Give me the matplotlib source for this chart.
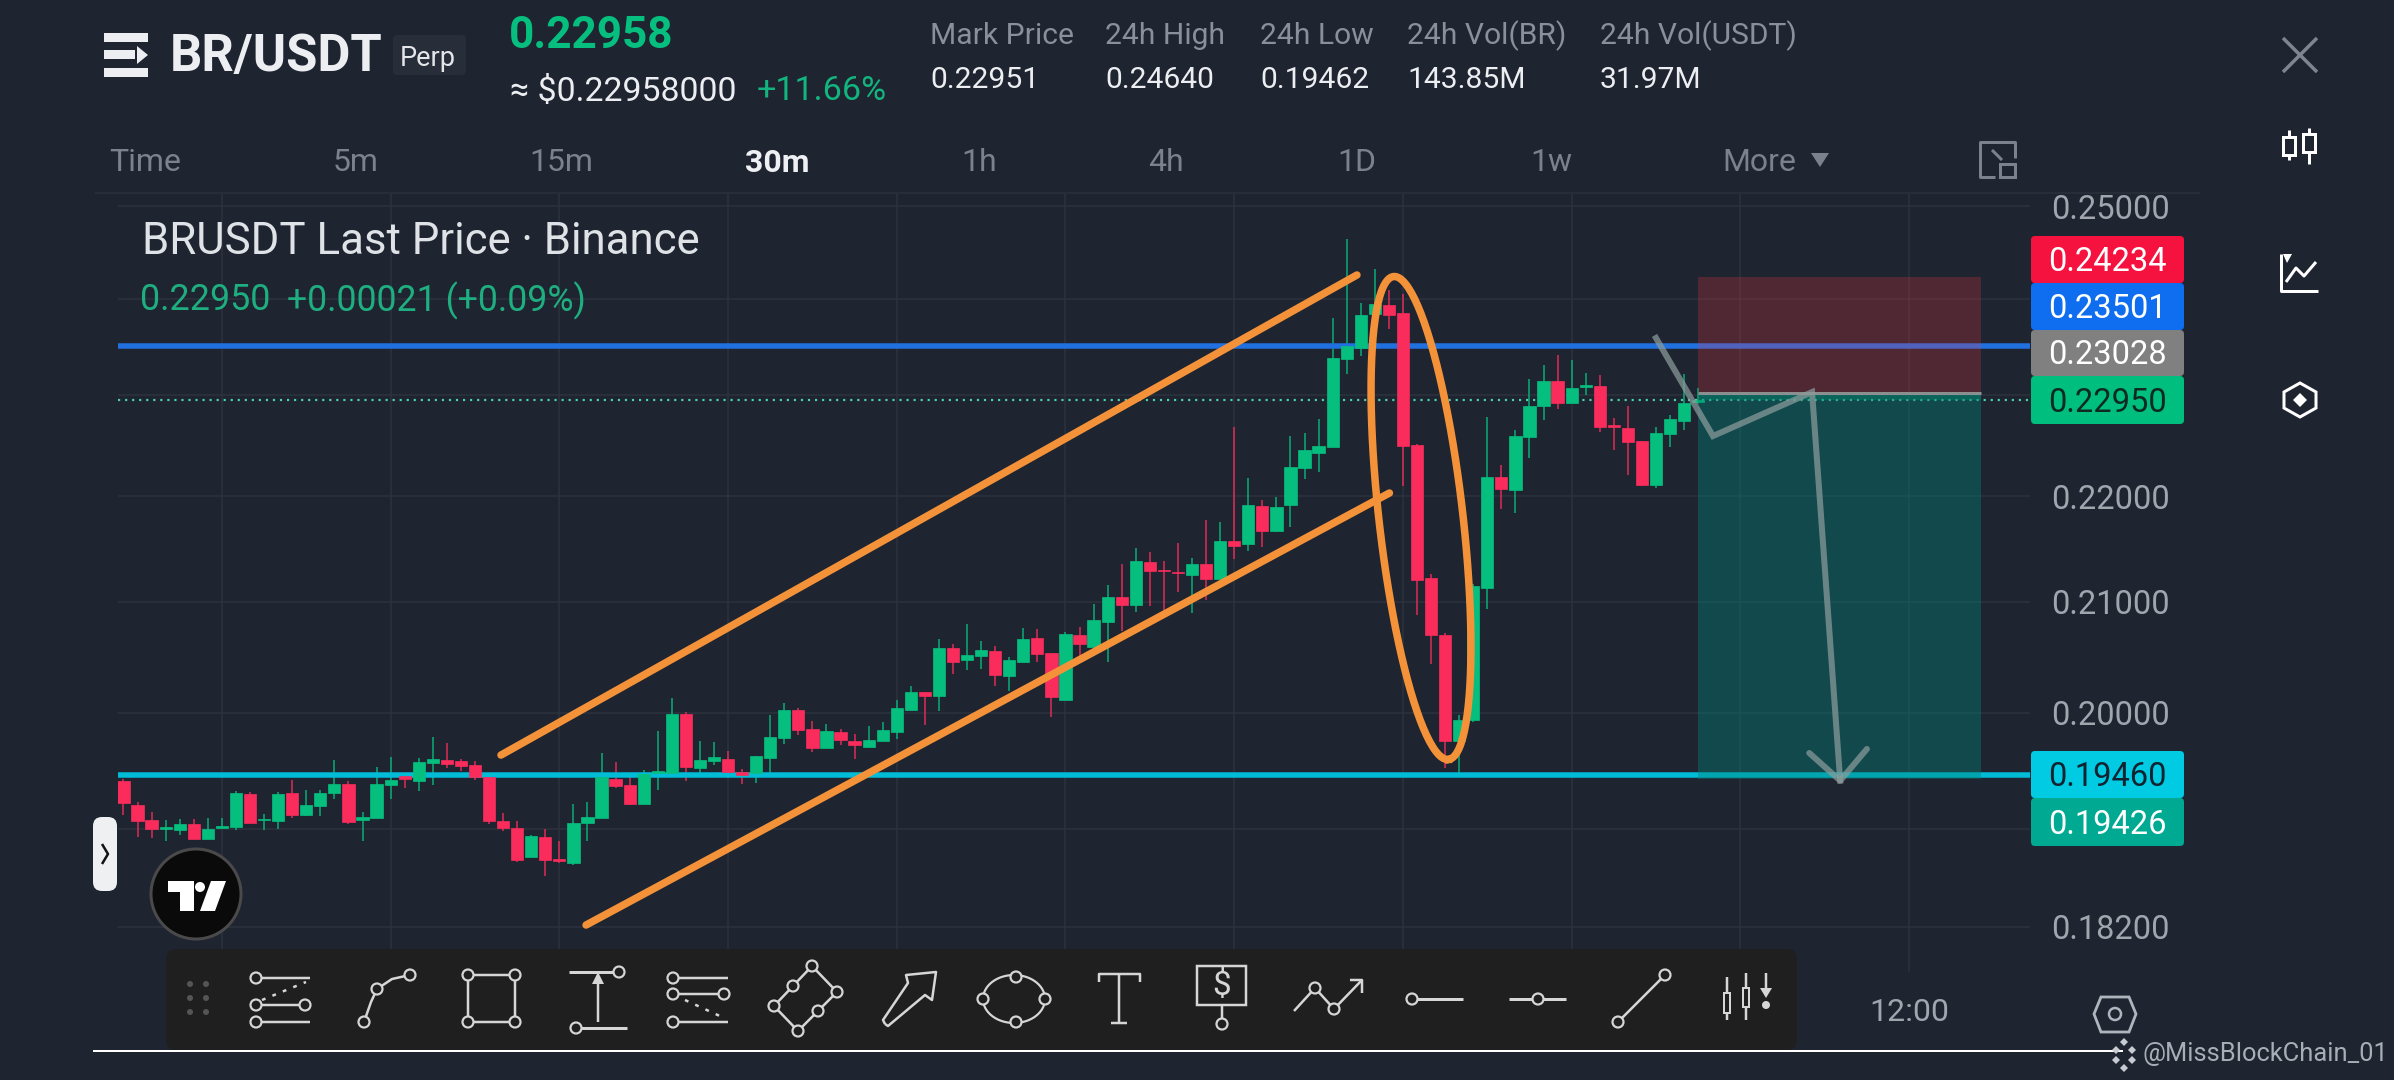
import numpy as np
import matplotlib
matplotlib.use('Agg')
import matplotlib.pyplot as plt
from matplotlib.patches import Circle, Polygon, FancyBboxPatch, Rectangle

plt.rcParams['font.family'] = ['Roboto', 'DejaVu Sans']

W, H = 2394, 1080

# candles (30m BR/USDT)
opens = [.19410, .19205, .19077, .19000, .18990, .19042, .18919, .19006, .19017, .19299,
         .19074, .19068, .19307, .19119, .19196, .19307, .19382, .19077, .19096, .19376,
         .19450, .19404, .19564, .19590, .19575, .19547, .19438, .19068, .19008, .18766,
         .18935, .18752, .18718, .19051, .19096, .19425, .19376, .19211, .19476, .19476,
         .19991, .19521, .19578, .19596, .19487, .19472, .19607, .19778, .20019, .19855,
         .19692, .19829, .19752, .19701, .19752, .19829, .20019, .20184, .20147, .20578,
         .20468, .20505, .20548, .20321, .20450, .20670, .20532, .20110, .20697, .20587,
         .20817, .21043, .20972, .21375, .21299, .21280, .21245, .21349, .21208, .21566,
         .21538, .21906, .21670, .21915, .22277, .22426, .22485, .23375, .23486, .23844,
         .23934, .23854, .22505, .21223, .20697, .19752, .19934, .21132, .22188, .22059,
         .22584, .22891, .23146, .22921, .23086, .23094, .22700, .22673, .22544, .22109,
         .22614, .22742, .22931]
closes = [.19216, .19068, .18998, .19014, .19042, .18919, .19000, .19025, .19302, .19051,
          .19088, .19299, .19119, .19205, .19307, .19382, .19060, .19102, .19382, .19416,
          .19427, .19573, .19598, .19553, .19538, .19438, .19068, .19011, .18742, .18943,
          .18742, .18733, .19051, .19102, .19438, .19367, .19211, .19467, .19496, .19983,
          .19530, .19590, .19615, .19487, .19461, .19624, .19786, .20019, .19846, .19692,
          .19838, .19761, .19712, .19761, .19846, .20037, .20184, .20147, .20578, .20450,
          .20514, .20560, .20331, .20468, .20661, .20523, .20138, .20707, .20615, .20835,
          .21048, .20972, .21384, .21283, .21286, .21267, .21349, .21208, .21566, .21519,
          .21915, .21670, .21896, .22287, .22449, .22495, .23385, .23500, .23833, .23948,
          .23833, .22488, .21201, .20691, .19752, .19934, .21144, .22190, .22069, .22594,
          .22891, .23146, .22924, .23073, .23101, .22683, .22683, .22534, .22109, .22624,
          .22762, .22921, .22950]
highs = [.19425, .19225, .19145, .19077, .19083, .19088, .19092, .19096, .19325, .19316,
         .19128, .19316, .19416, .19333, .19330, .19590, .19407, .19142, .19530, .19615,
         .19478, .19604, .19786, .19732, .19596, .19578, .19450, .19134, .19068, .18952,
         .18998, .18903, .19211, .19231, .19647, .19573, .19438, .19504, .19838, .20129,
         .20009, .19752, .19746, .19661, .19510, .19624, .19977, .20083, .20037, .19923,
         .19897, .19855, .19812, .19880, .19915, .20113, .20239, .20184, .20661, .20615,
         .20796, .20642, .20597, .20498, .20759, .20752, .20532, .20725, .20768, .20982,
         .21158, .21349, .21500, .21469, .21384, .21547, .21409, .21774, .21755, .22680,
         .22178, .21962, .21993, .22587, .22624, .22762, .23795, .24645, .23955, .24311,
         .24096, .24052, .22515, .21255, .20713, .19980, .21170, .22785, .22300, .22654,
         .23167, .23305, .23416, .23364, .23232, .23209, .22768, .22891, .22544, .22683,
         .22802, .23219, .23076]
lows = [.19119, .18935, .18925, .18903, .18952, .18917, .18917, .18998, .18992, .19048,
        .18992, .19000, .19096, .19111, .19105, .19250, .19042, .18903, .19096, .19256,
        .19350, .19325, .19370, .19515, .19496, .19416, .19045, .18986, .18729, .18763,
        .18612, .18720, .18699, .18903, .19096, .19344, .19202, .19211, .19333, .19476,
        .19404, .19472, .19547, .19430, .19382, .19387, .19472, .19729, .19803, .19652,
        .19692, .19720, .19598, .19695, .19752, .19769, .20019, .19889, .20016, .20340,
        .20376, .20386, .20237, .20193, .20450, .20447, .19957, .20110, .20498, .20587,
        .20450, .20728, .20908, .20963, .20927, .21088, .20896, .21019, .21208, .21396,
        .21472, .21516, .21660, .21708, .22168, .22238, .22478, .23219, .23406, .23833,
        .23677, .22099, .20874, .20429, .19519, .19467, .19917, .20936, .21875, .21837,
        .22376, .22752, .22861, .22921, .23000, .22634, .22455, .22208, .22099, .22082,
        .22485, .22654, .22911]

price_grid = [.25, .24, .23, .22, .21, .20, .19, .182]
price_labels = ['0.25000', '', '', '0.22000', '0.21000', '0.20000', '', '0.18200']
time_grid = [7, 19, 31, 43, 55, 67, 79, 91, 103, 115, 127]
time_labels = ['', '', '', '', '', '', '', '', '', '', '12:00']

blue_level = .23501
cyan_level = .19460
last_price = .22950
stop_price = .24234
entry_price = .23028
target_price = .19426
box_x = [112.0, 132.1]

channel_up_x = [26.85, 87.73]
channel_up_y = [.19629, .24252]
channel_low_x = [32.9, 90.04]
channel_low_y = [.18213, .22031]
path_x = [109.0, 113.05, 120.1, 122.1]
path_y = [.23588, .22591, .23033, .19409]
head_x = [119.9, 122.1, 124.0]
head_y = [.19647, .19409, .19682]

badge_values = ['0.24234', '0.23501', '0.23028', '0.22950', '0.19460', '0.19426']
badge_tops = [236, 283, 330, 376, 751, 798]
badge_bottoms = [283, 330, 376, 424, 798, 846]
badge_fills = ['#f6123f', '#0f6ef0', '#808080', '#00be7e', '#00cbe3', '#00a992']
badge_text = ['white', 'white', 'white', '#0f2a22', '#0f2430', 'white']

stat_names = ['Mark Price', '24h High', '24h Low', '24h Vol(BR)', '24h Vol(USDT)']
stat_values = ['0.22951', '0.24640', '0.19462', '143.85M', '31.97M']
stat_x = [930, 1105, 1260, 1407, 1600]

tabs = ['Time', '5m', '15m', '30m', '1h', '4h', '1D', '1w', 'More']
tab_x = [145, 356, 561, 777, 979, 1166, 1357, 1551, 1759]

BG = '#1e2430'
GRID = '#2c323e'
GREEN = '#06bf7f'
RED = '#f92c5c'
ORANGE = '#f4923a'
TOOLBAR = '#1f1f1f'
ICON = '#d6d6d6'
MUTED = '#8a909b'
PX = 0.72  # one pixel in points at dpi 100

fig = plt.figure(figsize=(W / 100, H / 100), dpi=100, facecolor=BG)

# price chart
ax = fig.add_axes([118 / W, (H - 972) / H, 1912 / W, 779 / H], facecolor=BG)
ax.set_yscale('log')
ax.set_xlim(-0.39, 135.6)
ax.set_ylim(.17840, .25144)
ax.yaxis.set_minor_locator(matplotlib.ticker.NullLocator())
ax.yaxis.tick_right()
ax.set_yticks(price_grid)
ax.set_yticklabels(price_labels)
ax.set_xticks(time_grid)
ax.set_xticklabels(time_labels)
ax.tick_params(axis='y', length=0, pad=15.5, labelsize=23.5, labelcolor='#a0a5ae')
ax.tick_params(axis='x', length=0, pad=19, labelsize=23, labelcolor='#a0a5ae')
ax.grid(True, color=GRID, lw=1.5 * PX)
ax.set_axisbelow(True)
for s in ax.spines.values():
    s.set_visible(False)

x = np.arange(len(opens))
o = np.array(opens)
c = np.array(closes)
up = c >= o
colors = np.where(up, GREEN, RED)
# wicks run under the level lines, bodies over them
ax.vlines(x, lows, highs, colors=colors, lw=1.8 * PX, alpha=0.75, zorder=3)
ax.hlines(blue_level, -0.39, 135.6, color='#2070e0', lw=5.5 * PX, zorder=3.5)
ax.hlines(cyan_level, -0.39, 135.6, color='#00bcd6', lw=5.5 * PX, zorder=3.5)
ax.hlines(last_price, -0.39, 135.6, color='#4fcfa8', lw=2.2 * PX, linestyles=(0, (1, 2.2)), zorder=3.5)
ax.bar(x, np.abs(c - o), bottom=np.minimum(o, c), width=0.87, color=colors, edgecolor=colors,
       lw=0.5, zorder=4)

# short position tool
ax.fill_between(box_x, entry_price, stop_price, color='#f23645', alpha=0.23, lw=0, zorder=6)
ax.fill_between(box_x, target_price, entry_price, color='#008378', alpha=0.4, lw=0, zorder=6)
ax.fill_between(box_x, last_price, entry_price, color='#00a080', alpha=0.3, lw=0, zorder=6)
ax.hlines(entry_price, box_x[0], box_x[1], color='#8c8f90', lw=3 * PX, zorder=7)

ax.plot(path_x, path_y, color='#8c9c9c', alpha=0.72, lw=6 * PX, solid_joinstyle='miter', zorder=8)
ax.plot(head_x, head_y, color='#8c9c9c', alpha=0.72, lw=6 * PX, solid_capstyle='round', zorder=8)

ax.plot(channel_up_x, channel_up_y, color=ORANGE, lw=7.5 * PX, solid_capstyle='round', zorder=9)
ax.plot(channel_low_x, channel_low_y, color=ORANGE, lw=7.5 * PX, solid_capstyle='round', zorder=9)

# everything else in pixel coordinates on top
ui = fig.add_axes([0, 0, 1, 1], zorder=5)
ui.set_xlim(0, W)
ui.set_ylim(H, 0)
ui.axis('off')
ui.patch.set_alpha(0)


def txt(px, py, s, size, color, ha='left', weight='normal'):
    ui.text(px, py + 2.5, s, fontsize=size, color=color, ha=ha, va='center', weight=weight)


def line(xs, ys, color=ICON, w=2.5, **kw):
    ui.plot(xs, ys, color=color, lw=w * PX, solid_capstyle=kw.pop('cap', 'butt'), **kw)


def dot(px, py, r=5.5, face=TOOLBAR, edge=ICON):
    ui.add_patch(Circle((px, py), r, facecolor=face, edgecolor=edge, lw=2.2 * PX, zorder=6))


def box(x0, y0, x1, y1, color, r=4, z=0.5):
    ui.add_patch(FancyBboxPatch((x0 + r, y0 + r), x1 - x0 - 2 * r, y1 - y0 - 2 * r,
                                boxstyle='round,pad=%d' % r, facecolor=color, edgecolor='none', zorder=z))


# ellipse drawn round the drop
t = np.linspace(0, 2 * np.pi, 200)
ex = 1421 + 243 * np.cos(t) * 0.113 + 42 * np.sin(t) * 0.9936
ey = 518 + 243 * np.cos(t) * 0.9936 - 42 * np.sin(t) * 0.113
ui.plot(ex, ey, color=ORANGE, lw=7.5 * PX)

# header
for yy in [33, 68]:
    ui.add_patch(Rectangle((104, yy), 44, 9, color='#eceef2', lw=0))
ui.add_patch(Rectangle((104, 50), 31, 9, color='#eceef2', lw=0))
ui.add_patch(Polygon([[137, 46], [148, 55], [137, 64]], color='#eceef2', lw=0))
txt(170, 55, 'BR/USDT', 36.5, '#eceef2', weight='bold')
box(393, 35, 466, 75, '#272d39')
txt(400, 56, 'Perp', 19.5, '#e4e6ea')
txt(509, 33, '0.22958', 31.8, GREEN, weight='bold')
txt(510, 89, '≈ $0.22958000', 24.4, '#eceef2')
txt(757, 89, '+11.66%', 24.6, '#13b47e')
for sx, n, v in zip(stat_x, stat_names, stat_values):
    txt(sx, 33.5, n, 21.6, MUTED)
    txt(sx, 77.5, v, 21.6, '#eceef2')

for name, tx in zip(tabs, tab_x):
    if name == '30m':
        txt(tx, 160, name, 23, '#eef0f3', ha='center', weight='bold')
    else:
        txt(tx, 160, name, 23, '#7c828d', ha='center')
ui.add_patch(Polygon([[1811, 153], [1829, 153], [1820, 167]], color='#7c828d', lw=0))
line([95, 2200], [193, 193], color='#272d39', w=2)

# fullscreen icon
line([2015, 2015, 1980, 1980, 1995], [158, 142, 142, 177, 177], color='#7c828d', w=3)
ui.add_patch(Rectangle((2000, 164), 15, 13, fill=False, edgecolor='#7c828d', lw=3 * PX))
line([1992, 2002], [150, 160], color='#7c828d', w=3)

txt(142, 240, 'BRUSDT Last Price · Binance', 31.5, '#dfe2e6')
txt(140, 298, '0.22950', 25.8, '#1fae80')
txt(287, 298, '+0.00021 (+0.09%)', 25.7, '#1fae80')

# close button and side icons
line([2283, 2317], [38, 72], color='#7d8590', w=3.5)
line([2283, 2317], [72, 38], color='#7d8590', w=3.5)
for cx, top, bot, w0, w1 in [(2289, 137, 155, 130, 160), (2309, 134, 152, 128, 164)]:
    line([cx, cx], [w0, top], color='white', w=3)
    line([cx, cx], [bot, w1], color='white', w=3)
    ui.add_patch(Rectangle((cx - 6, top), 12, bot - top, fill=False, edgecolor='white', lw=3 * PX))
line([2281, 2281, 2318], [254, 291, 291], color='white', w=3)
line([2286, 2296, 2304, 2316], [282, 268, 276, 262], color='white', w=3)
ui.add_patch(Polygon([[2283, 254], [2292, 254], [2287, 263]], color='white', lw=0))
ui.add_patch(Polygon([[2300, 383], [2316, 392], [2316, 408], [2300, 417], [2284, 408], [2284, 392]],
                     fill=False, edgecolor='white', lw=3 * PX))
ui.add_patch(Polygon([[2300, 393], [2307, 400], [2300, 407], [2293, 400]], color='white', lw=0))

# price badges
for v, y0, y1, f, tc in zip(badge_values, badge_tops, badge_bottoms, badge_fills, badge_text):
    box(2031, y0, 2184, y1, f)
    txt(2107, (y0 + y1) / 2, v, 23.5, tc, ha='center')

# collapse handle and logo
box(93, 817, 117, 891, '#eef0f2', r=9)
line([102, 108, 102], [844, 854, 864], color='#111111', w=2.5)
ui.add_patch(Circle((196, 894), 45, facecolor='#0a0a0a', edgecolor='#4a4a4a', lw=3 * PX))
ui.add_patch(Polygon([[168, 881], [194, 881], [194, 911], [180, 911], [180, 892], [168, 892]],
                     color='white', lw=0))
ui.add_patch(Circle((200, 887), 5, color='white', lw=0))
ui.add_patch(Polygon([[211, 881], [226, 881], [215, 911], [200, 911]], color='white', lw=0))

# drawing toolbar
box(166, 949, 1797, 1050, TOOLBAR, r=10)
line([93, 2123], [1051, 1051], color='white', w=2)
for dx in [190, 206]:
    for dy in [984, 998, 1012]:
        ui.add_patch(Circle((dx, dy), 3, color='#555555', lw=0, zorder=4))

line([256, 310], [978, 978])
line([256, 305], [1005, 1005])
line([256, 310], [1022, 1022])
line([262, 306], [1000, 982], linestyle=(0, (1.5, 3)))
for p in [(256, 978), (256, 1005), (305, 1005), (256, 1022)]:
    dot(*p)

line([364, 371, 377, 392, 410], [1022, 1002, 989, 979, 975])
for p in [(364, 1022), (377, 989), (410, 975)]:
    dot(*p)

line([468, 515, 515, 468, 468], [975, 975, 1022, 1022, 975])
for p in [(468, 975), (515, 975), (468, 1022), (515, 1022)]:
    dot(*p)

line([569, 619], [972, 972], w=3)
line([576, 627], [1028, 1028], w=3)
line([598, 598], [1022, 982])
ui.add_patch(Polygon([[592, 984], [604, 984], [598, 972]], color=ICON, lw=0))
dot(619, 972)
dot(576, 1028)

line([673, 728], [978, 978])
line([673, 724], [994, 994])
line([673, 728], [1022, 1022])
line([685, 722], [1000, 1017], linestyle=(0, (1.5, 3)))
for p in [(673, 978), (673, 994), (724, 994), (673, 1022)]:
    dot(*p)

line([812, 837, 798, 774, 812], [966, 992, 1031, 1006, 966])
for p in [(812, 966), (793, 986), (837, 992), (774, 1006), (818, 1011), (798, 1031)]:
    dot(*p)

line([885, 883, 908, 906, 936, 932, 925, 888, 885], [1024, 1020, 983, 975, 972, 1000, 995, 1026, 1024], w=2.5)

t2 = np.linspace(0, 2 * np.pi, 60)
ui.plot(1014 + 31 * np.cos(t2), 999 + 24 * np.sin(t2), color=ICON, lw=2.2 * PX)
for p in [(1016, 977), (1016, 1022), (983, 999), (1045, 999)]:
    dot(*p)

line([1099, 1099, 1140, 1140], [982, 974, 974, 982])
line([1119, 1119], [974, 1023])
line([1111, 1127], [1023, 1023])

ui.add_patch(Rectangle((1197, 966), 49, 39, fill=False, edgecolor=ICON, lw=2.5 * PX))
txt(1222, 983, '$', 24, ICON, ha='center')
line([1222, 1222], [1005, 1018])
dot(1222, 1024)

line([1294, 1315, 1334, 1362], [1011, 988, 1009, 980])
line([1350, 1362, 1362], [980, 980, 993])
dot(1315, 988)
dot(1334, 1009)

line([1412, 1463], [999, 999], w=3)
dot(1412, 999)
line([1509, 1566], [999, 999], w=3)
dot(1538, 999)
line([1618, 1665], [1022, 975])
dot(1618, 1022)
dot(1665, 975)

line([1727, 1727], [977, 1020])
ui.add_patch(Rectangle((1724, 993), 6, 20, facecolor=TOOLBAR, edgecolor=ICON, lw=2 * PX, zorder=6))
line([1746, 1746], [973, 1020])
ui.add_patch(Rectangle((1743, 988), 6, 19, facecolor=TOOLBAR, edgecolor=ICON, lw=2 * PX, zorder=6))
line([1766, 1766], [973, 990])
ui.add_patch(Polygon([[1760, 988], [1772, 988], [1766, 998]], color=ICON, lw=0))
ui.add_patch(Circle((1766, 1005), 4, color=ICON, lw=0))

# settings hexagon, watermark
ui.add_patch(Polygon([[2101, 997], [2129, 997], [2136, 1014], [2129, 1032], [2101, 1032], [2094, 1014]],
                     fill=False, edgecolor='#b0b5bd', lw=2.8 * PX))
ui.add_patch(Circle((2115, 1014), 6, fill=False, edgecolor='#b0b5bd', lw=2.5 * PX))
for dx, dy in [(0, -12), (-8, -4), (8, -4), (-8, 6), (8, 6), (0, 14)]:
    ui.add_patch(Polygon([[2124 + dx, 1054 + dy - 4], [2124 + dx + 4, 1054 + dy], [2124 + dx, 1054 + dy + 4],
                          [2124 + dx - 4, 1054 + dy]], color='#c8ccd2', lw=0, zorder=7))
txt(2142, 1052, '@MissBlockChain_01', 18.4, '#a8aeb6')

fig.savefig('out.png', dpi=100, facecolor=BG)
